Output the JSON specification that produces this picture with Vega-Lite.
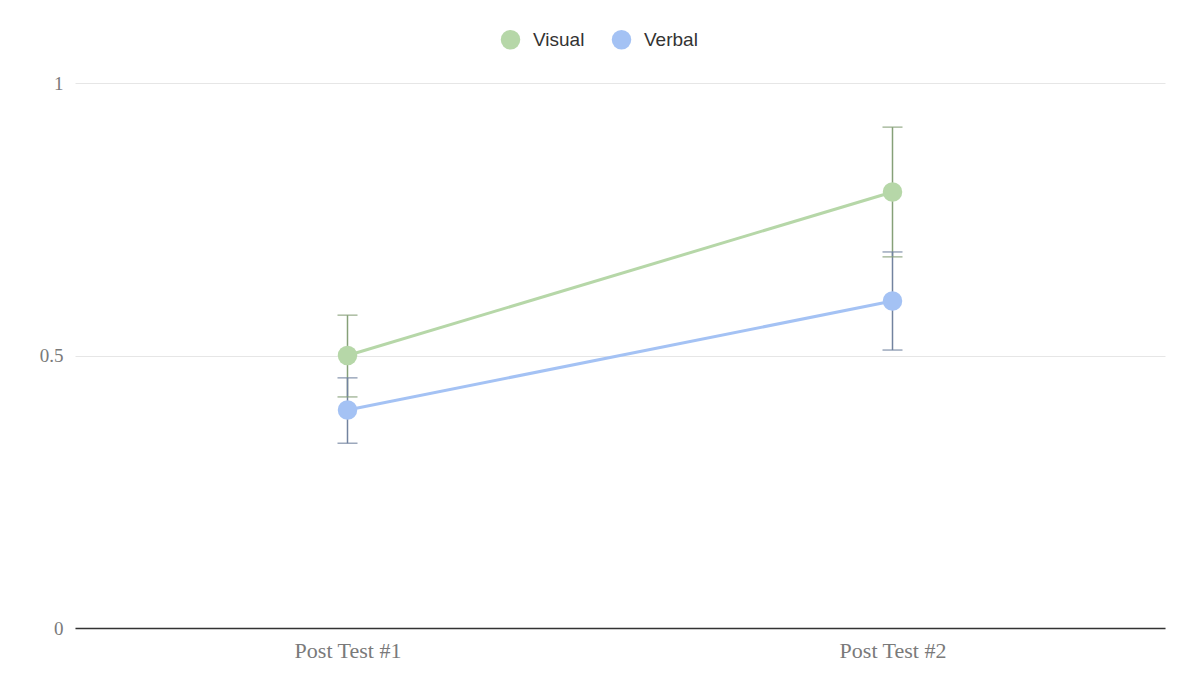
{
  "$schema": "https://vega.github.io/schema/vega-lite/v6.json",
  "width": 1090,
  "height": 545,
  "autosize": {"type": "none"},
  "padding": {"left": 75, "top": 83, "right": 35, "bottom": 62},
  "background": "white",
  "config": {
    "view": {"stroke": null},
    "axis": {"labelFont": "Liberation Serif", "labelColor": "#7a7a7a", "ticks": false, "title": null}
  },
  "data": {
    "values": [
      {"test": "Post Test #1", "group": "Visual", "score": 0.5, "low": 0.424, "high": 0.574},
      {"test": "Post Test #2", "group": "Visual", "score": 0.8, "low": 0.681, "high": 0.919},
      {"test": "Post Test #1", "group": "Verbal", "score": 0.4, "low": 0.339, "high": 0.459},
      {"test": "Post Test #2", "group": "Verbal", "score": 0.6, "low": 0.51, "high": 0.69}
    ]
  },
  "encoding": {
    "x": {
      "field": "test",
      "type": "nominal",
      "scale": {"type": "point", "padding": 0.5},
      "axis": {"labelAngle": 0, "labelFontSize": 22, "labelPadding": 12, "domainColor": "#333333", "domainWidth": 1.5, "grid": false}
    }
  },
  "layer": [
    {
      "mark": {"type": "rule", "strokeWidth": 1.5},
      "encoding": {
        "y": {"field": "low", "type": "quantitative"},
        "y2": {"field": "high"},
        "color": {"field": "group", "type": "nominal", "scale": {"domain": ["Visual", "Verbal"], "range": ["#86a078", "#72839f"]}, "legend": null}
      }
    },
    {
      "mark": {"type": "tick", "orient": "horizontal", "size": 20, "thickness": 1.5},
      "encoding": {
        "y": {"field": "low", "type": "quantitative"},
        "color": {"field": "group", "type": "nominal", "scale": {"domain": ["Visual", "Verbal"], "range": ["#86a078", "#72839f"]}, "legend": null}
      }
    },
    {
      "mark": {"type": "tick", "orient": "horizontal", "size": 20, "thickness": 1.5},
      "encoding": {
        "y": {"field": "high", "type": "quantitative"},
        "color": {"field": "group", "type": "nominal", "scale": {"domain": ["Visual", "Verbal"], "range": ["#86a078", "#72839f"]}, "legend": null}
      }
    },
    {
      "mark": {"type": "line", "strokeWidth": 3},
      "encoding": {
        "y": {"field": "score", "type": "quantitative"},
        "color": {"field": "group", "type": "nominal", "scale": {"domain": ["Visual", "Verbal"], "range": ["#b6d7a8", "#a4c2f4"]}, "legend": null}
      }
    },
    {
      "mark": {"type": "circle", "size": 380, "opacity": 1},
      "encoding": {
        "y": {
          "field": "score",
          "type": "quantitative",
          "scale": {"domain": [0, 1]},
          "axis": {"values": [0, 0.5, 1], "format": "~g", "labelFontSize": 19, "labelPadding": 12, "domain": false, "gridColor": "#e6e6e6"}
        },
        "color": {
          "field": "group",
          "type": "nominal",
          "scale": {"domain": ["Visual", "Verbal"], "range": ["#b6d7a8", "#a4c2f4"]},
          "legend": {
            "title": null,
            "orient": "none",
            "direction": "horizontal",
            "legendX": 425,
            "legendY": -54,
            "symbolType": "circle",
            "symbolSize": 380,
            "symbolOpacity": 1,
            "labelFont": "Liberation Sans",
            "labelFontSize": 19,
            "labelColor": "#333333",
            "labelOffset": 12,
            "columnPadding": 26
          }
        }
      }
    }
  ],
  "resolve": {"scale": {"color": "independent"}}
}
